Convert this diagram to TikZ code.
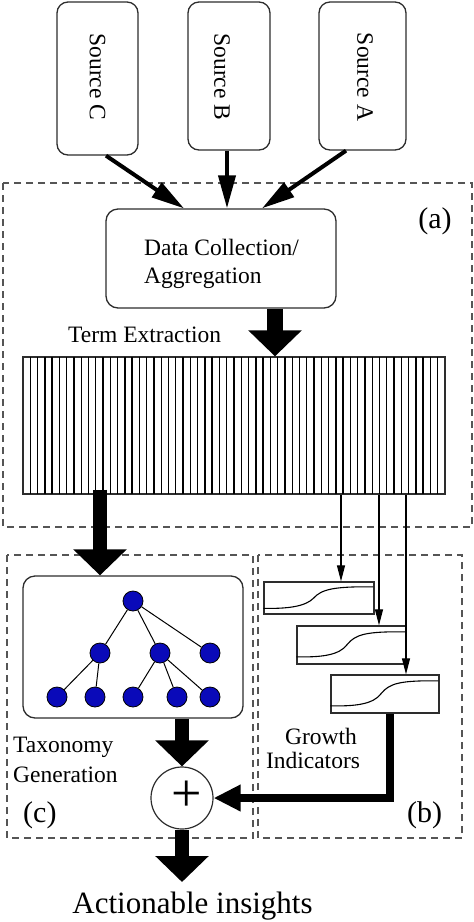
\documentclass[tikz,border=0pt]{standalone}
\usepackage{fontspec}
\setmainfont{Liberation Serif}
\usetikzlibrary{arrows.meta,calc}
\definecolor{treeblue}{RGB}{10,10,185}
\definecolor{dashgray}{RGB}{85,85,85}
\definecolor{edgegray}{RGB}{45,45,45}
\begin{document}
\begin{tikzpicture}[x=1pt,y=-1pt,
  lbl/.style={font=\fontsize{23.5}{28}\selectfont, inner sep=0pt},
  biglbl/.style={font=\fontsize{30}{36}\selectfont, inner sep=0pt},
  rbox/.style={draw=edgegray, line width=1.3pt, inner sep=0pt, rounded corners=11pt},
  pbox/.style={draw=edgegray, line width=1.3pt, inner sep=0pt},
  srcarrow/.style={line width=4pt, -{Triangle[length=33pt,width=17pt]}},
  bigarrow/.style={line width=#1, -{Triangle[length=26pt,width=52pt]}},
  thinarrow/.style={line width=1.2pt, -{Triangle[length=16pt,width=8pt]}},
  growarrow/.style={line width=8pt, line join=miter, -{Triangle[length=27pt,width=25pt]}},
  dashbox/.style={draw=dashgray, line width=1.1pt, dash pattern=on 7pt off 5pt},
  treenode/.style={circle, draw=black, line width=0.8pt, fill=treeblue, minimum size=20pt, inner sep=0pt},
  treeedge/.style={line width=1pt, draw=black},
  stripe/.style={line width=1.4pt, draw=black},
  curve/.style={line width=1.1pt, draw=black}
]
\useasboundingbox (0,0) rectangle (474,922);

% dashed region boxes
\draw[dashbox, line width=1.6pt] (3,183) rectangle (472,527);
\draw[dashbox] (7,555) rectangle (253,838);
\draw[dashbox] (258,555) rectangle (462,838);

% sources
\node[rbox, minimum width=81pt, minimum height=153pt] (srcC) at (97.5,78.5) {};
\node[lbl, rotate=-90] (srcCt) at (97.5,77) {Source C};
\node[rbox, minimum width=82pt, minimum height=148pt] (srcB) at (229,76) {};
\node[lbl, rotate=-90] (srcBt) at (222,77) {Source B};
\node[rbox, minimum width=87pt, minimum height=148pt] (srcA) at (362.5,76) {};
\node[lbl, rotate=-90] (srcAt) at (365,77) {Source A};

% data collection
\node[rbox, rounded corners=12pt, minimum width=230pt, minimum height=99pt] (data) at (221,258.5) {};
\node[lbl, anchor=base west] (datat1) at (144,255) {Data Collection/};
\node[lbl, anchor=base west] (datat2) at (144,283) {Aggregation};
\node[biglbl, anchor=base] (lbla) at (435,228) {(a)};

\draw[srcarrow] ([xshift=8.5pt]srcC.south) -- ([xshift=-37pt]data.north);
\draw[srcarrow] ([xshift=-2pt]srcB.south) -- ([xshift=-2pt]srcB.south |- data.north);
\draw[srcarrow] ([xshift=-16.5pt]srcA.south) -- ([xshift=41pt]data.north);

% term extraction
\node[lbl, anchor=base west] (termt) at (68,342) {Term Extraction};
\node[pbox, minimum width=422pt, minimum height=137pt] (term) at (234,425.5) {};
\foreach \i in {1,...,57} {
  \pgfmathsetmacro\xx{23+\i*7.27586}
  \draw[stripe] (\xx,357) -- (\xx,494);
}
\draw[bigarrow=16pt] ([xshift=54pt]data.south) -- ([xshift=54pt]data.south |- term.north);

% taxonomy
\node[rbox, rounded corners=12pt, minimum width=220pt, minimum height=142pt] (tax) at (133,647) {};
\draw[bigarrow=14pt] ([xshift=-134pt,yshift=5pt]term.south) -- ([xshift=-134pt]term.south |- tax.north);
\node[treenode] (r) at (133,601) {};
\node[treenode] (m1) at (100,653) {};
\node[treenode] (m2) at (160,653) {};
\node[treenode] (m3) at (210,653) {};
\node[treenode] (l1) at (57,697) {};
\node[treenode] (l2) at (95,697) {};
\node[treenode] (l3) at (133,697) {};
\node[treenode] (l4) at (177,697) {};
\node[treenode] (l5) at (210,697) {};
\draw[treeedge] (r) -- (m1);
\draw[treeedge] (r) -- (m2);
\draw[treeedge] (r) -- (m3);
\draw[treeedge] (m1) -- (l1);
\draw[treeedge] (m1) -- (l2);
\draw[treeedge] (m2) -- (l3);
\draw[treeedge] (m2) -- (l4);
\draw[treeedge] (m2) -- (l5);

\node[lbl, anchor=base west] (taxt1) at (13,752) {Taxonomy};
\node[lbl, anchor=base west] (taxt2) at (13,782) {Generation};
\node[biglbl, anchor=base west] (lblc) at (23,822) {(c)};

% growth indicators
\node[pbox, minimum width=110pt, minimum height=32pt] (g1) at (319,598) {};
\node[pbox, minimum width=109pt, minimum height=38pt] (g2) at (351.5,645) {};
\node[pbox, minimum width=108pt, minimum height=38pt] (g3) at (385,694) {};
\begin{scope}[shift={(g1.north west)}]
  \draw[curve] (0,27) .. controls (25,27.5) and (42,25) .. (50,17) .. controls (58,8) and (70,5) .. (110,5.5);
\end{scope}
\begin{scope}[shift={(g2.north west)}]
  \draw[curve] (0,31.5) .. controls (25,32) and (43,30) .. (51,19) .. controls (59,9) and (70,6) .. (109,6.5);
\end{scope}
\begin{scope}[shift={(g3.north west)}]
  \draw[curve] (0,31.5) .. controls (25,32) and (43,30) .. (51,19) .. controls (59,9) and (70,6) .. (108,6.5);
\end{scope}
\draw[thinarrow] ([xshift=107pt]term.south) -- ([xshift=107pt]term.south |- g1.north);
\draw[thinarrow] ([xshift=145pt]term.south) -- ([xshift=145pt]term.south |- g2.north);
\draw[thinarrow] ([xshift=172pt]term.south) -- ([xshift=172pt]term.south |- g3.north);

\node[lbl, anchor=base] (grt1) at (321,744) {Growth};
\node[lbl, anchor=base] (grt2) at (313,768) {Indicators};
\node[biglbl, anchor=base west] (lblb) at (407,822) {(b)};

% combination
\node[circle, draw=edgegray, line width=1.2pt, minimum size=62pt, inner sep=0pt] (plus) at (182,798) {};
\node[font=\fontsize{54}{54}\selectfont, inner sep=0pt] (plust) at (187,796) {+};
\draw[bigarrow=14pt] (tax.south -| plus.north) -- (plus.north);
\draw[growarrow] ([xshift=5pt]g3.south) |- (plus.east);

\coordinate (outtip) at (182,882);
\draw[bigarrow=14pt] (plus.south) -- (outtip);
\node[font=\fontsize{31}{36}\selectfont, inner sep=0pt, anchor=base] (out) at (192.5,913) {Actionable insights};
\end{tikzpicture}
\end{document}
